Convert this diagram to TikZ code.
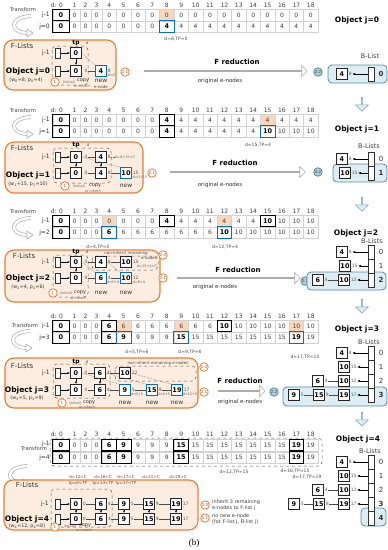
\documentclass[tikz,border=0pt]{standalone}
\usepackage{fontspec}
\setmainfont{DejaVu Sans}
\newfontfamily\capfont{Liberation Serif}
\usetikzlibrary{shapes.arrows, arrows.meta, positioning}

\definecolor{flOrange}{RGB}{237,125,49}
\definecolor{flFill}{RGB}{253,237,224}
\definecolor{cellOrange}{RGB}{251,214,186}
\definecolor{newBlue}{RGB}{0,112,192}
\definecolor{blEdge}{RGB}{84,141,162}
\definecolor{blFill}{RGB}{220,237,243}

\newcommand{\fsz}[1]{\fontsize{#1}{#1}\selectfont}

% header of the dp table: name, y
\newcommand{\dphead}[2]{%
  \node[hdr, anchor=east] (#1) at (57,#2) {d:};
  \foreach \k in {0,...,18}{%
    \pgfmathsetmacro\cx{\k==0 ? 61 : (\k<4 ? 63.5+11*\k : 109.2+14.4*(\k-4))}%
    \node[hdr] (#1\k) at (\cx,#2) {\k};
  }%
}
% one row of the dp table: name, y, value/kind for d = 0..18
\newcommand{\dprow}[3]{%
  \foreach \v/\s [count=\k from 0] in {#3}{%
    \pgfmathsetmacro\cl{\k==0 ? 53 : (\k<4 ? 58+11*\k : 102+14.4*(\k-4))}%
    \pgfmathsetmacro\cw{\k==0 ? 16 : (\k<4 ? 11 : 14.4)}%
    \node[cell, cell\s, minimum width=\cw pt] (#1\k) at (\cl+\cw/2, #2) {\v};
  }%
  \foreach \v/\s [count=\k from 0] in {#3}
    \draw[rim\s] (#1\k.south west) rectangle (#1\k.north east);
}
% B-list array: name, row ys, first index set in bold
\newcommand{\bstack}[3]{%
  \foreach \yy [count=\j from 0] in {#2}{%
    \node[bcell] (#1\j) at (371.5,\yy) {};
    \ifnum\j<#3 \node[idx] (#1i\j) at (381,\yy) {\j};
    \else \node[idx, font=\fsz{7}\bfseries] (#1i\j) at (381,\yy) {\j};\fi
  }%
}
% a chain of e-nodes in a B-list row: name, y, x/value/d
\newcommand{\bchain}[3]{%
  \foreach \x/\v/\dd [count=\i, remember=\i as \last (initially 0)] in {#3}{%
    \node[enode] (#1n\i) at (\x,#2) {\v};
    \node[dlab, right=0.4pt of #1n\i] (#1d\i) {\dd};
    \ifnum\last>0 \draw[chain] (#1d\last.east) -- (#1n\i.west);\fi
  }%
}

\tikzset{
  cell/.style = {draw=gray!35, line width=0.4pt, minimum height=11.5pt, inner sep=0pt, text=black!75, font=\fsz{6}},
  celln/.style = {fill=white},
  cello/.style = {fill=cellOrange},
  cellb/.style = {fill=white, text=black, font=\fsz{6.5}\bfseries},
  cellu/.style = {fill=white, text=black, font=\fsz{6.5}\bfseries},
  rimn/.style = {draw=none},
  rimo/.style = {draw=none},
  rimb/.style = {draw=black, line width=1pt},
  rimu/.style = {draw=newBlue, line width=1pt},
  hdr/.style = {font=\fsz{6}, text=black!75, inner sep=0pt},
  rowlab/.style = {font=\fsz{6}, text=black!80, anchor=east, inner sep=0pt},
  tplab/.style = {font=\fsz{6}\bfseries, inner sep=0pt},
  objlab/.style = {font=\fsz{7.5}\bfseries, inner sep=0pt},
  ftitle/.style = {font=\fsz{7}, text=black!80, inner sep=0pt},
  wlab/.style = {font=\fsz{4.8}, text=black!80, inner sep=0pt},
  fbox/.style = {draw=flOrange, line width=1.1pt, fill=flFill, rounded corners=9pt},
  copybox/.style = {draw=gray!70!black, dashed, line width=0.5pt, rounded corners=4pt},
  enode/.style = {draw=black!85, line width=0.9pt, fill=white, minimum size=11pt, inner sep=0pt, font=\fsz{6.5}\bfseries},
  newnode/.style = {enode, draw=newBlue},
  lhead/.style = {draw=black!80, line width=0.6pt, fill=white, minimum width=5pt, minimum height=10pt, inner sep=0pt},
  link/.style = {-{Latex[length=2.5pt, width=2.2pt]}, line width=0.6pt},
  chain/.style = {line width=0.5pt, black!70},
  hint/.style = {densely dotted, black!60, line width=0.5pt},
  dlab/.style = {font=\fsz{4.5}, text=black!65, inner sep=0.3pt},
  tinyl/.style = {font=\fsz{3.5}, text=black!60, inner sep=0pt},
  dsum/.style = {tinyl, anchor=north west, yshift=-0.6pt},
  smalll/.style = {font=\fsz{4}, text=black!70, inner sep=0pt},
  newlab/.style = {font=\fsz{6}, text=black!80, inner sep=0pt},
  copylab/.style = {font=\fsz{5}, text=black!80, inner sep=0pt},
  stepo/.style = {circle, draw=flOrange, line width=0.8pt, fill=white, inner sep=0pt, minimum size=8.5pt, font=\fsz{4}, text=flOrange!70!black},
  stept/.style = {stepo, draw=blEdge, fill=blEdge!45, text=blEdge!50!black},
  fred/.style = {single arrow, draw=gray!65, fill=white, line width=0.6pt, minimum width=11pt, single arrow head extend=3pt, inner sep=0pt},
  redlab/.style = {font=\fsz{7}\bfseries, inner sep=0pt},
  origlab/.style = {font=\fsz{5.5}, text=black!80, inner sep=0pt},
  tlab/.style = {font=\fsz{4.5}, text=black!70, inner sep=0pt},
  bbox/.style = {draw=blEdge, fill=blFill, line width=0.8pt, rounded corners=4pt},
  blab/.style = {font=\fsz{6.5}, text=black!75, inner sep=0pt},
  bcell/.style = {draw=black!80, fill=white, line width=0.6pt, minimum width=6.5pt, minimum height=14pt, inner sep=0pt},
  idx/.style = {font=\fsz{7}, text=black!80, inner sep=0pt},
  barrow/.style = {-{Latex[length=3pt, width=2.6pt]}, line width=0.7pt},
  dnarrow/.style = {single arrow, draw=blEdge!80, fill=blFill, line width=0.6pt, minimum width=13pt, minimum height=14pt, single arrow head extend=3pt, inner sep=0pt, rotate=-90},
  trlab/.style = {font=\fsz{5.2}, text=black!75, inner sep=0pt},
  trarrow/.style = {gray!60, double=white, double distance=2.4pt, line width=0.7pt},
  trhead/.style = {gray!60, fill=white, line width=0.7pt, line join=round},
  notel/.style = {font=\fontsize{5}{5.6}\selectfont, text=black!75, inner sep=0pt, align=left, anchor=west},
}

\begin{document}
\begin{tikzpicture}[x=1pt, y=-1pt]
\useasboundingbox (0,0) rectangle (388,550);

% transform arrows on the left of every table
\foreach \lx/\ly/\ax/\ay [count=\t] in {23/10/31/16, 23/111/31/117, 23/212/31/218, 25/326/30/331, 34/449/27/466}{
  \node[trlab] (tr\t) at (\lx,\ly) {Transform};
  \draw[trarrow] (\ax,\ay) .. controls (\ax-22,\ay+1) and (\ax-22,\ay+16) .. (\ax-4,\ay+17);
  \draw[trhead] (\ax-4,\ay+13) -- (\ax+2,\ay+17) -- (\ax-4,\ay+21) -- cycle;
}
% arrows between the objects
\foreach \yy [count=\t] in {104,204,306,419}
  \node[dnarrow] (dn\t) at (362,\yy) {};

% ---------------- object j=0
\dphead{hA}{5}
\node[rowlab] (rA1) at (50,15) {j-1};
\node[rowlab] (rA2) at (50,26.5) {j=0};
\dprow{tA}{15}{0/b,0/n,0/n,0/n,0/n,0/n,0/n,0/n,0/o,0/n,0/n,0/n,0/n,0/n,0/n,0/n,0/n,0/n,0/n}
\dprow{tB}{26.5}{0/b,0/n,0/n,0/n,0/n,0/n,0/n,0/n,4/u,4/n,4/n,4/n,4/n,4/n,4/n,4/n,4/n,4/n,4/n}
\node[tlab] (dA1) at (176,39) {d=8,TP=0};
\node[objlab] (oA) at (357,20) {Object j=0};

\draw[fbox] (4,40) rectangle (116,90);
\node[ftitle] (flA) at (22,46) {F-Lists};
\node[rowlab] (flAr) at (50,53) {j-1};
\node[objlab] (flAo) at (28,71) {Object j=0};
\node[wlab] (flAw) at (26,80) {(w\textsubscript{0}=8, p\textsubscript{0}=4)};
\draw[copybox] (52,46) rectangle (88,85);
\node[tplab] (tpA) at (76,43) {tp};
\node[smalll] (ddA) at (87,43) {d};
\node[lhead] (hAu) at (58,53) {};
\node[lhead] (hAl) at (58,71) {};
\node[enode] (fAu0) at (76,53) {0};
\node[enode] (fAl0) at (76,71) {0};
\node[dlab] (fAla) at (86,71) {0};
\node[newnode] (fAn) at (101,71) {4};
\node[dlab, right=0.4pt of fAn] (fAnd) {8};
\node[dsum] (fAnt) at (fAnd.south west) {d=8};
\draw[link] (hAu) -- (fAu0);
\draw[link] (hAl) -- (fAl0);
\draw[link] (fAu0) -- (fAl0);
\draw[chain] (fAla) -- (fAn);
\draw[hint] (fAu0.east) -- (fAn.north west);
\node[stepo] (sA1) at (55,82) {1};
\node[tinyl] (cA1) at (69,82) {(initial)};
\node[copylab] (cA2) at (83,81) {copy};
\node[tinyl] (cA3) at (82,86.5) {or inherit};
\node[newlab] (nwA) at (101,81) {new};
\node[smalll] (nwA2) at (101,87) {e-node};
\node[stepo] (sA2) at (125,72) {2.1};

\node[fred, minimum height=163pt] (frA) at (225.5,71) {};
\node[redlab] (frAt) at (237,62) {F reduction};
\node[origlab] (frAo) at (220,81) {original e-nodes};
\node[stept] (sA3) at (318,72) {2.2};

\draw[bbox] (328,65) rectangle (387,83);
\node[blab] (blA) at (370,56) {B-List};
\bstack{bAs}{74}{0}
\bchain{bAr0}{74}{342/4/8}
\draw[barrow] (bAs0.west) -- (bAr0d1.east);

% ---------------- object j=1
\dphead{hB}{110}
\node[rowlab] (rB1) at (50,120) {j-1};
\node[rowlab] (rB2) at (50,131.5) {j=1};
\dprow{tC}{120}{0/b,0/n,0/n,0/n,0/n,0/n,0/n,0/n,4/b,4/n,4/n,4/n,4/n,4/n,4/n,4/o,4/n,4/n,4/n}
\dprow{tD}{131.5}{0/b,0/n,0/n,0/n,0/n,0/n,0/n,0/n,4/b,4/n,4/n,4/n,4/n,4/n,4/n,10/u,10/n,10/n,10/n}
\node[tlab] (dB1) at (258,145) {d=15,TP=4};
\node[objlab] (oB) at (357,129) {Object j=1};

\draw[fbox] (5,142) rectangle (143,193);
\node[ftitle] (flB) at (22,148) {F-Lists};
\node[rowlab] (flBr) at (50,157) {j-1};
\node[objlab] (flBo) at (28,175) {Object j=1};
\node[wlab] (flBw) at (28,184) {(w\textsubscript{1}=15, p\textsubscript{1}=10)};
\draw[copybox] (53,148) rectangle (111,183);
\node[tplab] (tpB) at (76,145) {tp};
\node[smalll] (ddB) at (88,145) {d};
\node[lhead] (hBu) at (58,157) {};
\node[lhead] (hBl) at (58,173) {};
\node[enode] (fBu0) at (76,157) {0};
\node[enode] (fBl0) at (76,173) {0};
\node[dlab] (fBua) at (86,157) {0};
\node[dlab] (fBla) at (86,173) {0};
\node[enode] (fBu4) at (101,157) {4};
\node[enode] (fBl4) at (101,173) {4};
\node[dlab, right=0.4pt of fBu4] (fBub) {8};
\node[dlab, right=0.4pt of fBl4] (fBlb) {8};
\node[tinyl] (fBx) at (125,157) {d=8+15>C};
\node[newnode] (fBn) at (126,173) {10};
\node[dlab, right=0.4pt of fBn] (fBnd) {15};
\node[dsum] (fBnt) at (fBnd.south west) {d=0+15};
\draw[link] (hBu) -- (fBu0);
\draw[link] (hBl) -- (fBl0);
\draw[link] (fBu0) -- (fBl0);
\draw[link] (fBu4) -- (fBl4);
\draw[chain] (fBua) -- (fBu4);
\draw[chain] (fBla) -- (fBl4);
\draw[chain] (fBlb) -- (fBn);
\draw[hint] (fBu0.east) -- (fBn.north west);
\draw[hint] (fBub) -- (fBx);
\node[stepo] (sB1) at (65,186) {1};
\node[tinyl] (cB1) at (79,186) {(initial)};
\node[copylab] (cB2) at (95,185.5) {copy};
\node[tinyl] (cB3) at (93,191) {or inherit};
\node[newlab] (nwB) at (126,186) {new};
\node[stepo] (sB2) at (152,173) {2.1};

\node[fred, minimum height=135pt] (frB) at (237.5,172) {};
\node[redlab] (frBt) at (235,163) {F reduction};
\node[origlab] (frBo) at (220,185) {original e-nodes};
\node[stept] (sB3) at (318,172) {2.2};

\draw[bbox] (333,164) rectangle (387,182);
\node[blab] (blB) at (369,146) {B-Lists};
\bstack{bBs}{159,173}{1}
\bchain{bBr0}{159}{342/4/8}
\bchain{bBr1}{173}{345/10/15}
\draw[barrow] (bBs0.west) -- (bBr0d1.east);
\draw[barrow] (bBs1.west) -- (bBr1d1.east);

% ---------------- object j=2
\dphead{hC}{211}
\node[rowlab] (rC1) at (50,221) {j-1};
\node[rowlab] (rC2) at (50,232.5) {j=2};
\dprow{tE}{221}{0/b,0/n,0/n,0/n,0/o,0/n,0/n,0/n,4/b,4/n,4/n,4/n,4/o,4/n,4/n,10/b,10/n,10/n,10/n}
\dprow{tF}{232.5}{0/b,0/n,0/n,0/n,6/u,6/n,6/n,6/n,6/n,6/n,6/n,6/n,10/u,10/n,10/n,10/n,10/n,10/n,10/n}
\node[tlab] (dC1) at (98,247) {d=4,TP=0};
\node[tlab] (dC2) at (225,247) {d=12,TP=4};
\node[objlab] (oC) at (356,233) {Object j=2};

\draw[fbox] (5,250) rectangle (160,302);
\node[ftitle] (flC) at (24,256) {F-Lists};
\node[rowlab] (flCr) at (50,262) {j-1};
\node[objlab] (flCo) at (28,278) {Object j=2};
\node[wlab] (flCw) at (28,287) {(w\textsubscript{2}=4, p\textsubscript{2}=6)};
\draw[copybox] (53,255) rectangle (88,297);
\draw[copybox] (92,256) rectangle (158,270);
\node[tplab] (tpC) at (76,252) {tp};
\node[smalll] (ddC) at (87,252) {d};
\node[smalll, fill=flFill, inner sep=0.3pt] (niC) at (126,253) {non-inherit remaining};
\node[smalll] (niC2) at (149,258.5) {e-nodes};
\node[lhead] (hCu) at (58,262) {};
\node[lhead] (hCl) at (58,278) {};
\node[enode] (fCu0) at (76,262) {0};
\node[enode] (fCl0) at (76,278) {0};
\node[dlab] (fCua) at (86,262) {0};
\node[dlab] (fCla) at (86,278) {0};
\node[enode] (fCu4) at (101,262) {4};
\node[dlab, right=0.4pt of fCu4] (fCub) {8};
\node[enode] (fCu10) at (126,262) {10};
\node[dlab, right=0.4pt of fCu10] (fCuc) {15};
\node[tinyl] (fCx) at (147,266.5) {d=15+4>C};
\node[newnode] (fCn6) at (101,278) {6};
\node[dlab, right=0.4pt of fCn6] (fCnb) {4};
\node[dsum] (fCnt) at ([xshift=-1pt]fCnb.south west) {d=0+4};
\node[newnode] (fCn10) at (126,278) {10};
\node[dlab, right=0.4pt of fCn10] (fCnc) {12};
\node[dsum] (fCnt2) at (fCnc.south west) {d=8+4};
\draw[link] (hCu) -- (fCu0);
\draw[link] (hCl) -- (fCl0);
\draw[link] (fCu0) -- (fCl0);
\draw[chain] (fCua) -- (fCu4);
\draw[chain] (fCub) -- (fCu10);
\draw[chain] (fCla) -- (fCn6);
\draw[chain] (fCnb) -- (fCn10);
\draw[hint] (fCu0.east) -- (fCn6.north west);
\draw[hint] (fCu4.east) -- (fCn10.north west);
\node[stepo] (sC1) at (53,293) {1};
\node[tinyl] (cC1) at (66,293) {(initial)};
\node[copylab] (cC2) at (80,292.5) {copy};
\node[tinyl] (cC3) at (78,298) {or inherit};
\node[newlab] (nwC1) at (101,293) {new};
\node[newlab] (nwC2) at (126,293) {new};
\node[stepo] (sC0) at (163,255) {2.0};
\node[stepo] (sC2) at (163,278) {2.1};

\node[fred, minimum height=123pt] (frC) at (238.5,278) {};
\node[redlab] (frCt) at (238,270) {F reduction};
\node[origlab] (frCo) at (215,287) {original e-nodes};
\node[stept] (sC3) at (305,281) {2.2};

\draw[bbox] (307,272) rectangle (386,290);
\node[blab] (blC) at (372,241) {B-Lists};
\bstack{bCs}{252,266,280}{2}
\bchain{bCr0}{252}{342/4/8}
\bchain{bCr1}{266}{345/10/15}
\bchain{bCr2}{280}{318/6/4, 344/10/12}
\draw[barrow] (bCs0.west) -- (bCr0d1.east);
\draw[barrow] (bCs1.west) -- (bCr1d1.east);
\draw[barrow] (bCs2.west) -- (bCr2d2.east);

% ---------------- object j=3
\dphead{hD}{316}
\node[rowlab] (rD1) at (50,326) {j-1};
\node[rowlab] (rD2) at (50,337.5) {j=3};
\dprow{tG}{326}{0/b,0/n,0/n,0/n,6/b,6/o,6/n,6/n,6/n,6/o,6/n,6/n,10/b,10/n,10/n,10/n,10/n,10/o,10/n}
\dprow{tH}{337.5}{0/b,0/n,0/n,0/n,6/b,9/u,9/n,9/n,9/n,15/u,15/n,15/n,15/n,15/n,15/n,15/n,15/n,19/u,19/n}
\node[tlab] (dD1) at (137,352) {d=5,TP=6};
\node[tlab] (dD2) at (190,352) {d=9,TP=6};
\node[tlab] (dD3) at (305,357) {d=17,TP=10};
\node[objlab] (oD) at (357,329) {Object j=3};

\draw[fbox] (5,358) rectangle (198,408);
\node[ftitle] (flD) at (22,366) {F-Lists};
\node[rowlab] (flDr) at (50,373) {j-1};
\node[objlab] (flDo) at (27,390) {Object j=3};
\node[wlab] (flDw) at (27,398) {(w\textsubscript{3}=5, p\textsubscript{3}=9)};
\draw[copybox] (53,364) rectangle (110,398);
\draw[copybox] (115,366) rectangle (196,381);
\node[tplab] (tpD) at (76,362) {tp};
\node[smalll] (ddD) at (87,362) {d};
\node[smalll, fill=flFill, inner sep=0.3pt] (niD) at (158,363) {non-inherit remaining e-nodes};
\node[lhead] (hDu) at (58,373) {};
\node[lhead] (hDl) at (58,390) {};
\node[enode] (fDu0) at (76,373) {0};
\node[enode] (fDl0) at (76,390) {0};
\node[dlab] (fDua) at (86,373) {0};
\node[dlab] (fDla) at (86,390) {0};
\node[enode] (fDu6) at (100,373) {6};
\node[enode] (fDl6) at (100,390) {6};
\node[dlab, right=0.4pt of fDu6] (fDub) {4};
\node[dlab, right=0.4pt of fDl6] (fDlb) {4};
\node[enode] (fDu10) at (125,373) {10};
\node[dlab, right=0.4pt of fDu10] (fDuc) {12};
\node[newnode] (fDn9) at (125,390) {9};
\node[dlab, right=0.4pt of fDn9] (fDn9d) {5};
\node[dsum] (fDn9t) at ([xshift=-1pt]fDn9d.south west) {d=0+5};
\node[newnode] (fDn15) at (152,390) {15};
\node[dlab, right=0.4pt of fDn15] (fDn15d) {9};
\node[dsum] (fDn15t) at ([xshift=-1pt]fDn15d.south west) {d=4+5};
\node[newnode] (fDn19) at (177,390) {19};
\node[dlab, right=0.4pt of fDn19] (fDn19d) {17};
\node[dsum] (fDn19t) at ([xshift=-1pt]fDn19d.south west) {d=12+5};
\draw[link] (hDu) -- (fDu0);
\draw[link] (hDl) -- (fDl0);
\draw[link] (fDu0) -- (fDl0);
\draw[link] (fDu6) -- (fDl6);
\draw[chain] (fDua) -- (fDu6);
\draw[chain] (fDla) -- (fDl6);
\draw[chain] (fDub) -- (fDu10);
\draw[chain] (fDlb) -- (fDn9);
\draw[chain] (fDn9d) -- (fDn15);
\draw[chain] (fDn15d) -- (fDn19);
\draw[hint] (fDu0.east) -- (fDn9.north west);
\draw[hint] (fDu6.east) -- (fDn15.north west);
\draw[hint] (fDu10.east) -- (fDn19.north west);
\node[stepo] (sD1) at (62,403) {1};
\node[tinyl] (cD1) at (75,403) {(initial)};
\node[copylab] (cD2) at (89,402.5) {copy};
\node[tinyl] (cD3) at (87,407) {or inherit};
\node[newlab] (nwD1) at (125,403) {new};
\node[newlab] (nwD2) at (152,403) {new};
\node[newlab] (nwD3) at (177,403) {new};
\node[stepo] (sD0) at (204,367) {2.0};
\node[stepo] (sD2) at (204,392) {2.1};

\node[fred, minimum height=47pt] (frD) at (241.5,391) {};
\node[redlab] (frDt) at (240,381) {F reduction};
\node[origlab] (frDo) at (240,402) {original e-nodes};
\node[stept] (sD3) at (274,392) {2.2};

\draw[bbox] (283,387) rectangle (387,406);
\node[blab] (blD) at (369,342) {B-Lists};
\bstack{bDs}{353,367,381,395}{3}
\bchain{bDr0}{353}{342/4/8}
\bchain{bDr1}{367}{344/10/15}
\bchain{bDr2}{381}{318/6/4, 344/10/12}
\bchain{bDr3}{395}{294/9/5, 319/15/9, 344/19/17}
\draw[barrow] (bDs0.west) -- (bDr0d1.east);
\draw[barrow] (bDs1.west) -- (bDr1d1.east);
\draw[barrow] (bDs2.west) -- (bDr2d2.east);
\draw[barrow] (bDs3.west) -- (bDr3d3.east);

% ---------------- object j=4
\draw[copybox] (50,438) rectangle (322,466);
\dphead{hE}{434}
\node[rowlab] (rE1) at (50,444) {j-1};
\node[rowlab] (rE2) at (50,457.5) {j=4};
\dprow{tI}{445}{0/b,0/n,0/n,0/n,6/b,9/b,9/n,9/n,9/n,15/b,15/n,15/n,15/n,15/n,15/n,15/n,15/n,19/b,19/n}
\dprow{tJ}{457.5}{0/b,0/n,0/n,0/n,6/b,9/b,9/n,9/n,9/n,15/b,15/n,15/n,15/n,15/n,15/n,15/n,15/n,19/b,19/n}
\node[tlab] (dE1) at (234,472) {d=12,TP=15};
\node[tlab] (dE2) at (295,471) {d=16,TP=15};
\node[tlab] (dE3) at (307,477) {d=17,TP=19};
\node[objlab] (oE) at (358,439) {Object j=4};

\draw[fbox] (4,480) rectangle (198,530);
\node[ftitle] (flE) at (27,485) {F-Lists};
\node[rowlab] (flEr) at (49,504) {j-1};
\node[objlab] (flEo) at (27,519) {Object j=4};
\node[wlab] (flEw) at (27,526) {(w\textsubscript{4}=12, p\textsubscript{4}=8)};
\draw[copybox] (51,489) rectangle (112,527);
\node[lhead] (hEu) at (58,504) {};
\node[lhead] (hEl) at (58,519) {};
\foreach \x/\v/\dd/\dc/\tc [count=\i, remember=\i as \last (initially 0)] in
    {76/0/0/d=12<C/tp=8<TP, 101/6/4/d=16<C/tp=14<TP, 124/9/5/d=17<C/tp=17<TP, 149/15/9/d=21>C/, 176/19/17/d=29>C/}{
  \node[enode] (fEu\i) at (\x,504) {\v};
  \node[enode] (fEl\i) at (\x,519) {\v};
  \node[dlab, right=0.4pt of fEu\i] (fEud\i) {\dd};
  \node[dlab, right=0.4pt of fEl\i] (fEld\i) {\dd};
  \draw[link] (fEu\i) -- (fEl\i);
  \node[smalll] (fEc\i) at (\x+2,477) {\dc};
  \node[smalll] (fEp\i) at (\x+2,483) {\tc};
  \ifnum\last>0
    \draw[chain] (fEud\last.east) -- (fEu\i.west);
    \draw[chain] (fEld\last.east) -- (fEl\i.west);
  \fi
}
\draw[link] (hEu) -- (fEu1);
\draw[link] (hEl) -- (fEl1);
\node[stepo] (sE1) at (55,527) {1};
\node[tinyl] (cE1) at (70,526.5) {(initial)};
\node[copylab] (cE2) at (85,526) {copy};
\node[tinyl] (cE3) at (84,530.5) {or inherit};

\node[stepo] (sE0) at (205,505) {2.0};
\node[notel] (tE0) at (212,505) {inherit 3 remaining\\e-nodes to F-list j};
\node[stepo] (sE2) at (205,518) {2.1};
\node[notel] (tE2) at (212,519) {no new e-node\\(for F-list j, B-list j)};

\draw[bbox] (361,508) rectangle (386,526);
\node[blab] (blE) at (370,451) {B-Lists};
\bstack{bEs}{462,476,490,504,518}{3}
\bchain{bEr0}{462}{342/4/8}
\bchain{bEr1}{476}{344/10/15}
\bchain{bEr2}{490}{318/6/4, 344/10/12}
\bchain{bEr3}{504}{294/9/5, 319/15/9, 344/19/17}
\draw[barrow] (bEs0.west) -- (bEr0d1.east);
\draw[barrow] (bEs1.west) -- (bEr1d1.east);
\draw[barrow] (bEs2.west) -- (bEr2d2.east);
\draw[barrow] (bEs3.west) -- (bEr3d3.east);

\node[font=\capfont\fsz{9}] (cap) at (194,543) {(b)};
\end{tikzpicture}
\end{document}
